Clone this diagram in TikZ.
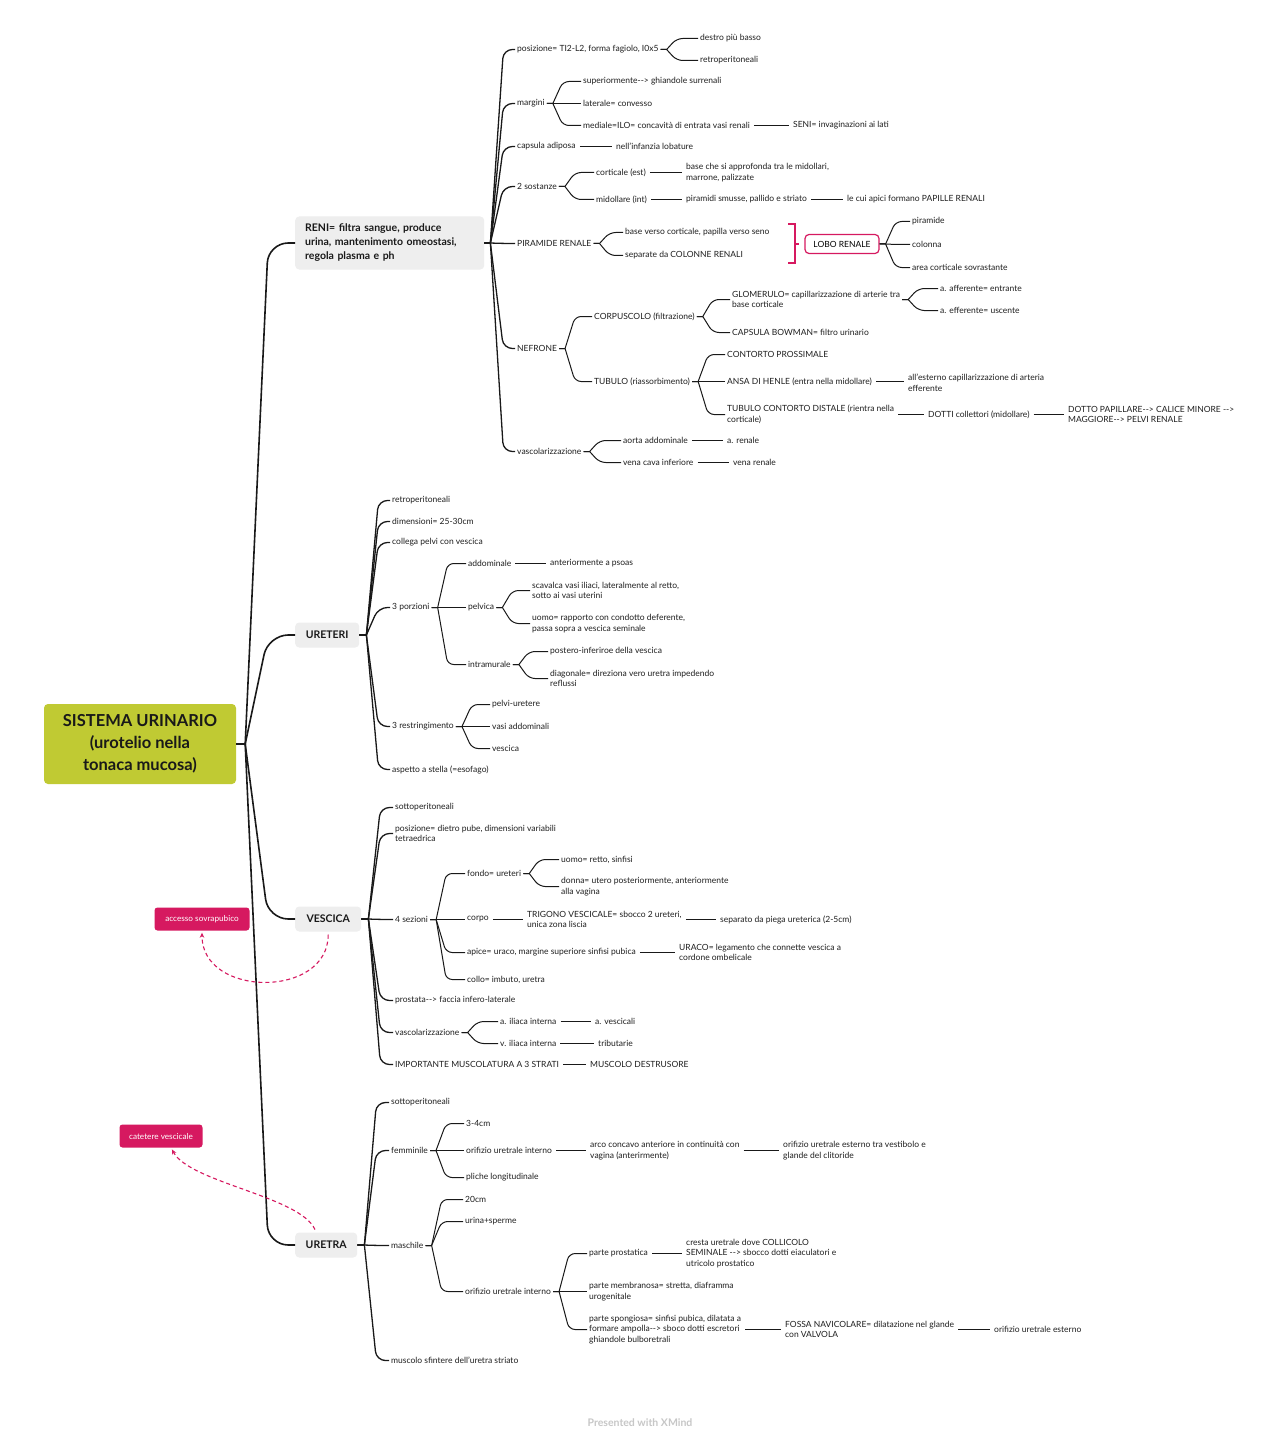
\documentclass[tikz,border=0pt]{standalone}
\usepackage{fontspec}
\setmainfont{Lato}
\usetikzlibrary{calc,arrows.meta}
\definecolor{pinkx}{RGB}{214,25,96}
\definecolor{rootg}{RGB}{192,202,51}
\definecolor{boxg}{RGB}{238,238,238}
\definecolor{linec}{RGB}{25,25,25}
\newcommand\dd{-\kern0pt-}
\tikzset{
 t/.style={anchor=west, xshift=-2pt, yshift=-0.5pt, inner sep=2pt, align=left, font=\fontsize{8.5}{10.6}\selectfont, text=black!88},
 main/.style={anchor=west, fill=boxg, rounded corners=4pt, font=\fontsize{10.5}{14}\selectfont\bfseries, inner sep=0pt, align=center, text=black!90},
 br/.style={draw=linec, line width=1pt},
 brm/.style={draw=linec, line width=1.3pt},
 brr/.style={draw=linec, line width=1.6pt},
 note/.style={fill=pinkx, text=white, rounded corners=3pt, font=\fontsize{8.2}{10}\selectfont, inner sep=0pt},
 lobo/.style={draw=pinkx, line width=1.2pt, rounded corners=4pt, fill=white, minimum width=74pt, minimum height=19pt, inner sep=0pt, font=\fontsize{8.5}{10}\selectfont},
 dl/.style={draw=pinkx, line width=1.1pt, dash pattern=on 4pt off 3pt, -{Stealth[length=5pt,width=4.5pt]}},
}
\newcommand\lkx[6]{\draw[#6, rounded corners=#5pt] let \p1=(#1.east), \p2=(#2.west) in (\p1) -- (\x1+#3pt,\y1) (\x1+#3pt,\y1) -- (\x1+#3pt+#4pt,\y2) -- (\p2);}
\newcommand\lk[2]{\lkx{#1}{#2}{6}{10}{6}{br}}
\newcommand\lkm[2]{\lkx{#1}{#2}{7}{12}{9}{brm}}
\newcommand\sline[2]{\draw[br, shorten <=2pt, shorten >=2pt] (#1.east) -- (#1.east -| #2.west);}
\begin{document}
\begin{tikzpicture}[x=1pt,y=-1pt]
\useasboundingbox (0,0) rectangle (1280,1439);
\fill[white] (0,0) rectangle (1280,1439);
% root and main topics
\node[fill=rootg, rounded corners=4pt, minimum width=192pt, minimum height=80pt, inner sep=0pt, font=\fontsize{16.5}{22}\selectfont\bfseries, align=center, text=black!90] (root) at (140,744) {SISTEMA URINARIO\\(urotelio nella\\tonaca mucosa)};
\node[main, text width=169pt, align=left, inner xsep=10pt, minimum height=53pt] (reni) at (295,243) {RENI= filtra sangue, produce\\urina, mantenimento omeostasi,\\regola plasma e ph};
\node[main, minimum width=64pt, minimum height=25pt] (uret) at (295,635) {URETERI};
\node[main, minimum width=66pt, minimum height=25pt] (ves) at (295,919) {VESCICA};
\node[main, minimum width=62pt, minimum height=25pt] (ure) at (295,1245) {URETRA};
\lkx{root}{reni}{9}{23}{20}{brr}
\lkx{root}{uret}{9}{23}{20}{brr}
\lkx{root}{ves}{9}{23}{20}{brr}
\lkx{root}{ure}{9}{23}{20}{brr}
% notes
\node[note, minimum width=95pt, minimum height=23pt] (acc) at (202,919) {accesso sovrapubico};
\node[note, minimum width=83pt, minimum height=23pt] (cat) at (161,1136) {catetere vescicale};
\draw[dl, shorten <=3pt, shorten >=2pt] (ves.south) .. controls +(0,67) and +(0,67) .. (acc.south);
\draw[dl, shorten <=3pt, shorten >=2pt] ([xshift=-10pt]ure.north) .. controls +(-16,-36) and +(19,35) .. ([xshift=10pt]cat.south);
% RENI
\node[t] (r1) at (517,49) {posizione= TI2-L2, forma fagiolo, I0x5};
\node[t] (r1a) at (700,38) {destro più basso};
\node[t] (r1b) at (700,60) {retroperitoneali};
\node[t] (r2) at (517,103) {margini};
\node[t] (r2a) at (583,81) {superiormente\dd> ghiandole surrenali};
\node[t] (r2b) at (583,103) {laterale= convesso};
\node[t] (r2c) at (583,125) {mediale=ILO= concavità di entrata vasi renali};
\node[t] (r2c1) at (793,125) {SENI= invaginazioni ai lati};
\node[t] (r3) at (517,146) {capsula adiposa};
\node[t] (r3a) at (616,146) {nell'infanzia lobature};
\node[t] (r4) at (517,186) {2 sostanze};
\node[t] (r4a) at (596,172) {corticale (est)};
\node[t] (r4a1) at (686,172) {base che si approfonda tra le midollari,\\marrone, palizzate};
\node[t] (r4b) at (596,199) {midollare (int)};
\node[t] (r4b1) at (686,199) {piramidi smusse, pallido e striato};
\node[t] (r4b2) at (847,199) {le cui apici formano PAPILLE RENALI};
\node[t] (r5) at (517,243) {PIRAMIDE RENALE};
\node[t] (r5a) at (625,232) {base verso corticale, papilla verso seno};
\node[t] (r5b) at (625,255) {separate da COLONNE RENALI};
\node[lobo] (lobo) at (842,244) {LOBO RENALE};
\node[t] (lo1) at (912,221) {piramide};
\node[t] (lo2) at (912,244) {colonna};
\node[t] (lo3) at (912,267) {area corticale sovrastante};
\node[t] (r6) at (517,348) {NEFRONE};
\node[t] (r6a) at (594,316) {CORPUSCOLO (filtrazione)};
\node[t] (r6a1) at (732,299) {GLOMERULO= capillarizzazione di arterie tra\\base corticale};
\node[t] (r6a1a) at (940,288) {a. afferente= entrante};
\node[t] (r6a1b) at (940,310) {a. efferente= uscente};
\node[t] (r6a2) at (732,332) {CAPSULA BOWMAN= filtro urinario};
\node[t] (r6b) at (594,381) {TUBULO (riassorbimento)};
\node[t] (r6b1) at (727,354) {CONTORTO PROSSIMALE};
\node[t] (r6b2) at (727,381) {ANSA DI HENLE (entra nella midollare)};
\node[t] (r6b2a) at (908,382) {all'esterno capillarizzazione di arteria\\efferente};
\node[t] (r6b3) at (727,414) {TUBULO CONTORTO DISTALE (rientra nella\\corticale)};
\node[t] (r6b3a) at (928,414) {DOTTI collettori (midollare)};
\node[t] (r6b3b) at (1068,414) {DOTTO PAPILLARE\dd> CALICE MINORE \dd>\\MAGGIORE\dd> PELVI RENALE};
\node[t] (r7) at (517,451) {vascolarizzazione};
\node[t] (r7a) at (623,440) {aorta addominale};
\node[t] (r7a1) at (727,440) {a. renale};
\node[t] (r7b) at (623,462) {vena cava inferiore};
\node[t] (r7b1) at (733,462) {vena renale};
\foreach \c in {r1,r2,r3,r4,r5,r6,r7} {\lkx{reni}{\c}{6}{13}{9}{brm}}
\lk{r1}{r1a} \lk{r1}{r1b}
\lk{r2}{r2a} \lk{r2}{r2b} \lk{r2}{r2c} \sline{r2c}{r2c1}
\sline{r3}{r3a}
\lk{r4}{r4a} \lk{r4}{r4b} \sline{r4a}{r4a1} \sline{r4b}{r4b1} \sline{r4b1}{r4b2}
\lk{r5}{r5a} \lk{r5}{r5b}
\draw[pinkx, line width=1.2pt] (788,224) -- (795,224) -- (795,263) -- (788,263);
\coordinate (brk) at (795,244);
\draw[pinkx, line width=1.2pt] (brk) -- ([xshift=-5pt]lobo.west);
\lk{lobo}{lo1} \lk{lobo}{lo2} \lk{lobo}{lo3}
\lk{r6}{r6a} \lk{r6}{r6b}
\lk{r6a}{r6a1} \lk{r6a}{r6a2} \lk{r6a1}{r6a1a} \lk{r6a1}{r6a1b}
\lk{r6b}{r6b1} \lk{r6b}{r6b2} \lk{r6b}{r6b3}
\sline{r6b2}{r6b2a} \sline{r6b3}{r6b3a} \sline{r6b3a}{r6b3b}
\lk{r7}{r7a} \lk{r7}{r7b} \sline{r7a}{r7a1} \sline{r7b}{r7b1}
% URETERI
\node[t] (u1) at (392,500) {retroperitoneali};
\node[t] (u2) at (392,521) {dimensioni= 25-30cm};
\node[t] (u3) at (392,542) {collega pelvi con vescica};
\node[t] (u4) at (392,607) {3 porzioni};
\node[t] (u4a) at (468,563) {addominale};
\node[t] (u4a1) at (550,563) {anteriormente a psoas};
\node[t] (u4b) at (468,607) {pelvica};
\node[t] (u4b1) at (532,590) {scavalca vasi iliaci, lateralmente al retto,\\sotto ai vasi uterini};
\node[t] (u4b2) at (532,623) {uomo= rapporto con condotto deferente,\\passa sopra a vescica seminale};
\node[t] (u4c) at (468,664) {intramurale};
\node[t] (u4c1) at (550,651) {postero-inferiroe della vescica};
\node[t] (u4c2) at (550,678) {diagonale= direziona vero uretra impedendo\\reflussi};
\node[t] (u5) at (392,726) {3 restringimento};
\node[t] (u5a) at (492,704) {pelvi-uretere};
\node[t] (u5b) at (492,726) {vasi addominali};
\node[t] (u5c) at (492,748) {vescica};
\node[t] (u6) at (392,769) {aspetto a stella (=esofago)};
\foreach \c in {u1,u2,u3,u4,u5,u6} {\lkm{uret}{\c}}
\lk{u4}{u4a} \lk{u4}{u4b} \lk{u4}{u4c} \sline{u4a}{u4a1}
\lk{u4b}{u4b1} \lk{u4b}{u4b2} \lk{u4c}{u4c1} \lk{u4c}{u4c2}
\lk{u5}{u5a} \lk{u5}{u5b} \lk{u5}{u5c}
% VESCICA
\node[t] (v1) at (395,807) {sottoperitoneali};
\node[t] (v2) at (395,833) {posizione= dietro pube, dimensioni variabili\\tetraedrica};
\node[t] (v3) at (395,919) {4 sezioni};
\node[t] (v3a) at (467,873) {fondo= ureteri};
\node[t] (v3a1) at (561,859) {uomo= retto, sinfisi};
\node[t] (v3a2) at (561,886) {donna= utero posteriormente, anteriormente\\alla vagina};
\node[t] (v3b) at (467,919) {corpo};
\node[t] (v3b1) at (527,919) {TRIGONO VESCICALE= sbocco 2 ureteri,\\unica zona liscia};
\node[t] (v3b2) at (720,919) {separato da piega ureterica (2-5cm)};
\node[t] (v3c) at (467,952) {apice= uraco, margine superiore sinfisi pubica};
\node[t] (v3c1) at (679,952) {URACO= legamento che connette vescica a\\cordone ombelicale};
\node[t] (v3d) at (467,979) {collo= imbuto, uretra};
\node[t] (v4) at (395,1000) {prostata\dd> faccia infero-laterale};
\node[t] (v5) at (395,1032) {vascolarizzazione};
\node[t] (v5a) at (500,1021) {a. iliaca interna};
\node[t] (v5a1) at (595,1021) {a. vescicali};
\node[t] (v5b) at (500,1043) {v. iliaca interna};
\node[t] (v5b1) at (598,1043) {tributarie};
\node[t] (v6) at (395,1064) {IMPORTANTE MUSCOLATURA A 3 STRATI};
\node[t] (v6a) at (590,1064) {MUSCOLO DESTRUSORE};
\foreach \c in {v1,v2,v3,v4,v5,v6} {\lkm{ves}{\c}}
\lk{v3}{v3a} \lk{v3}{v3b} \lk{v3}{v3c} \lk{v3}{v3d}
\lk{v3a}{v3a1} \lk{v3a}{v3a2}
\sline{v3b}{v3b1} \sline{v3b1}{v3b2} \sline{v3c}{v3c1}
\lk{v5}{v5a} \lk{v5}{v5b} \sline{v5a}{v5a1} \sline{v5b}{v5b1}
\sline{v6}{v6a}
% URETRA
\node[t] (e1) at (391,1102) {sottoperitoneali};
\node[t] (e2) at (391,1150) {femminile};
\node[t] (e2a) at (466,1123) {3-4cm};
\node[t] (e2b) at (466,1150) {orifizio uretrale interno};
\node[t] (e2b1) at (590,1150) {arco concavo anteriore in continuità con\\vagina (anterirmente)};
\node[t] (e2b2) at (783,1150) {orifizio uretrale esterno tra vestibolo e\\glande del clitoride};
\node[t] (e2c) at (466,1177) {pliche longitudinale};
\node[t] (e3) at (391,1245) {maschile};
\node[t] (e3a) at (465,1199) {20cm};
\node[t] (e3b) at (465,1221) {urina+sperme};
\node[t] (e3c) at (465,1291) {orifizio uretrale interno};
\node[t] (e3c1) at (589,1253) {parte prostatica};
\node[t] (e3c1a) at (686,1253) {cresta uretrale dove COLLICOLO\\SEMINALE \dd> sbocco dotti eiaculatori e\\utricolo prostatico};
\node[t] (e3c2) at (589,1291) {parte membranosa= stretta, diaframma\\urogenitale};
\node[t] (e3c3) at (589,1329) {parte spongiosa= sinfisi pubica, dilatata a\\formare ampolla\dd> sboco dotti escretori\\ghiandole bulboretrali};
\node[t] (e3c3a) at (785,1329) {FOSSA NAVICOLARE= dilatazione nel glande\\con VALVOLA};
\node[t] (e3c3b) at (994,1329) {orifizio uretrale esterno};
\node[t] (e4) at (391,1360) {muscolo sfintere dell'uretra striato};
\foreach \c in {e1,e2,e3,e4} {\lkm{ure}{\c}}
\lk{e2}{e2a} \lk{e2}{e2b} \lk{e2}{e2c} \sline{e2b}{e2b1} \sline{e2b1}{e2b2}
\lk{e3}{e3a} \lk{e3}{e3b} \lk{e3}{e3c}
\lk{e3c}{e3c1} \lk{e3c}{e3c2} \lk{e3c}{e3c3}
\sline{e3c1}{e3c1a} \sline{e3c3}{e3c3a} \sline{e3c3a}{e3c3b}
% footer
\node[font=\fontsize{10.5}{12}\selectfont\bfseries, text=black!22] (foot) at (640,1423) {Presented with XMind};
\end{tikzpicture}
\end{document}
